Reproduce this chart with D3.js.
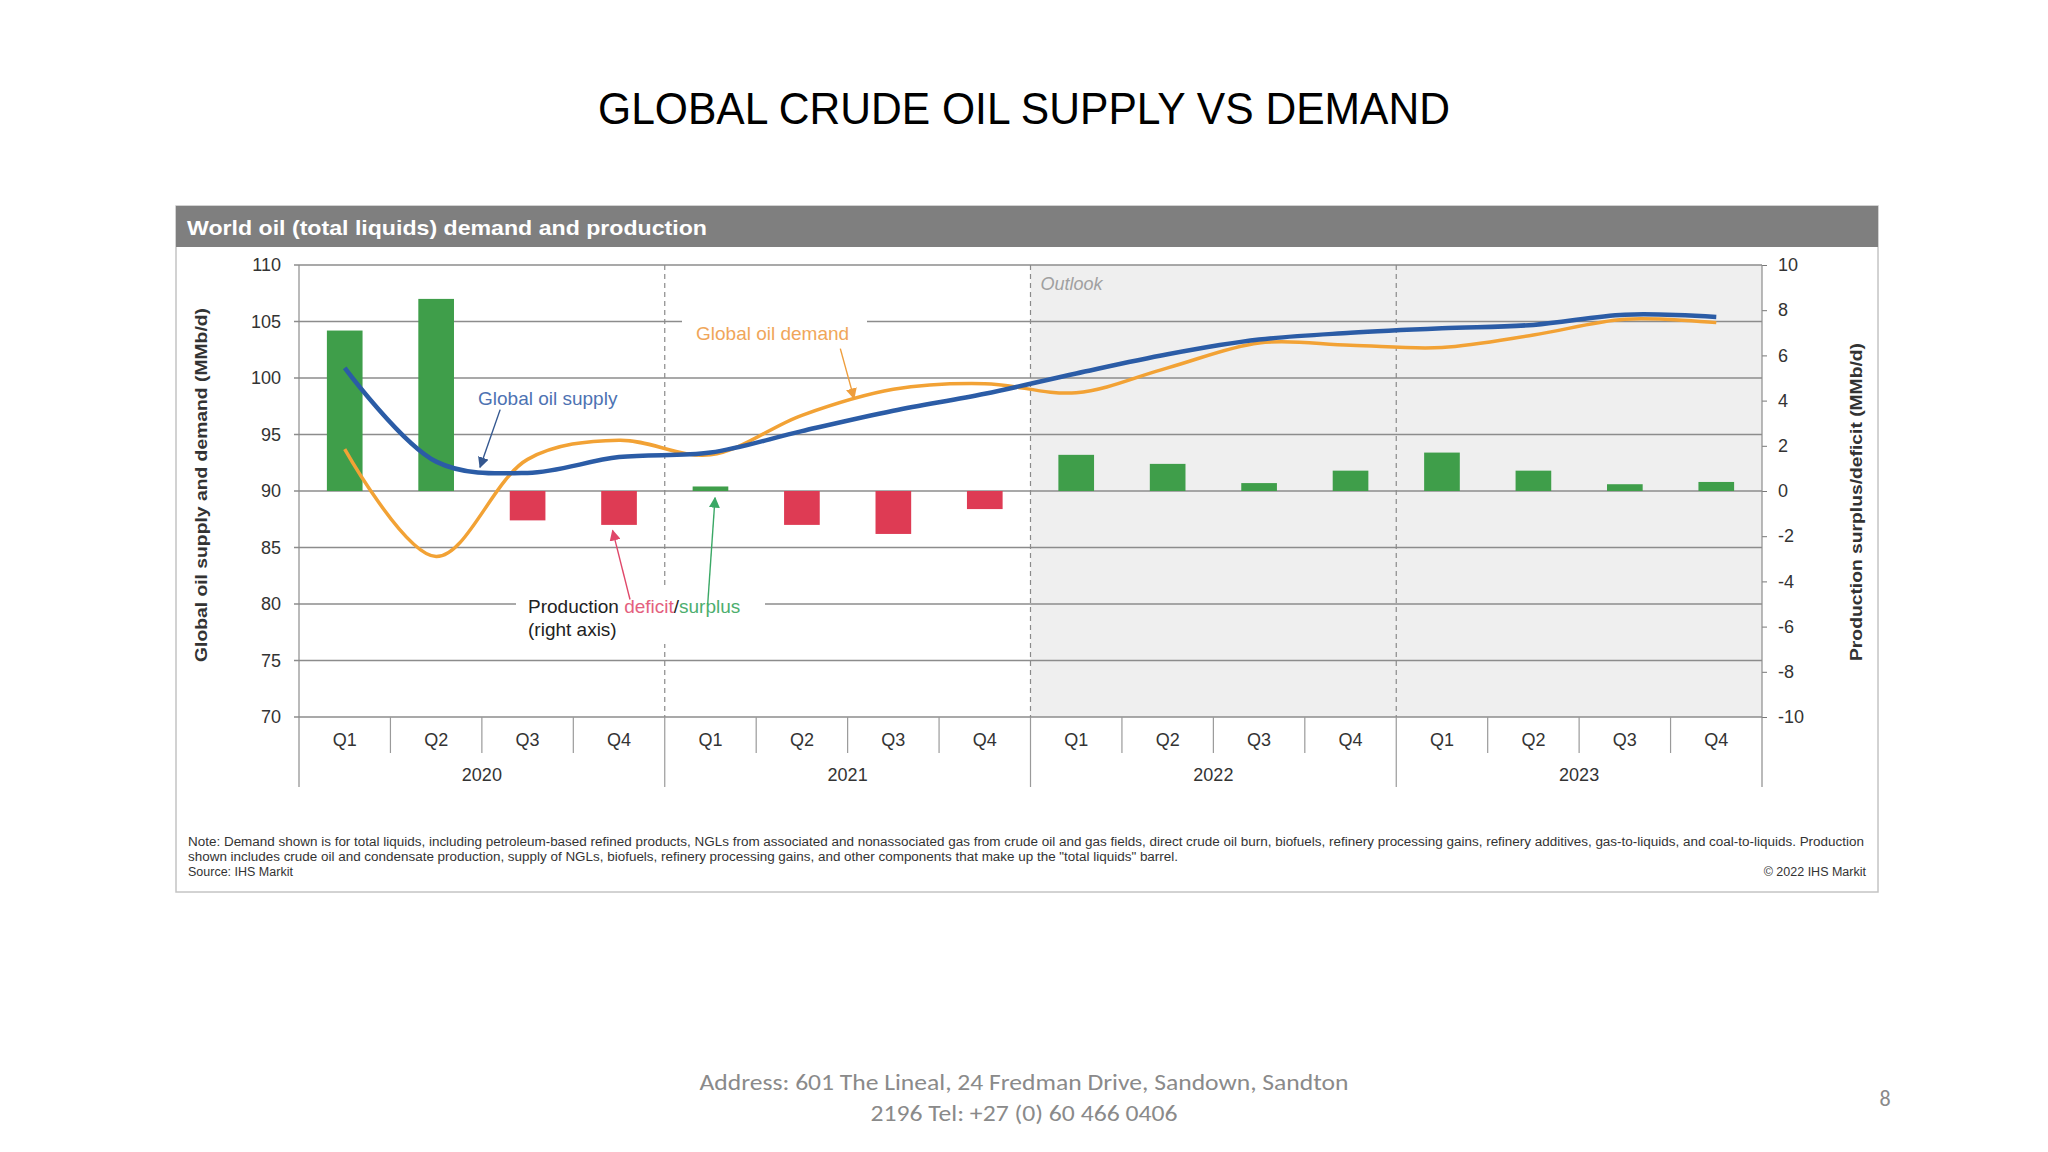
<!DOCTYPE html>
<html>
<head>
<meta charset="utf-8">
<script src="https://cdn.jsdelivr.net/npm/d3@7"></script>
<style>
  html, body { margin: 0; padding: 0; background: #fff; }
  svg { display: block; }
</style>
</head>
<body>
<svg id="slide" width="2048" height="1152"></svg>
<script>
// data
const years = ["2020", "2021", "2022", "2023"];
const quarters = ["Q1", "Q2", "Q3", "Q4"];
const supply = [100.9, 92.6, 91.6, 93.0, 93.4, 95.3, 97.1, 98.6, 100.4, 102.1, 103.4, 104.0, 104.4, 104.7, 105.6, 105.4];
const demand = [93.7, 84.2, 92.8, 94.5, 93.2, 96.7, 99.0, 99.5, 98.7, 100.9, 103.1, 102.9, 102.7, 103.8, 105.2, 104.9];
const balance = [7.1, 8.5, -1.3, -1.5, 0.2, -1.5, -1.9, -0.8, 1.6, 1.2, 0.35, 0.9, 1.7, 0.9, 0.3, 0.4];
const leftTicks = [70, 75, 80, 85, 90, 95, 100, 105, 110];
const rightTicks = [-10, -8, -6, -4, -2, 0, 2, 4, 6, 8, 10];
const outlookFrom = "2022";

const font = "'Liberation Sans', Arial, sans-serif";
const svg = d3.select('#slide');

// slide title
svg.append('text')
  .attr('x', 1024).attr('y', 124)
  .attr('text-anchor', 'middle')
  .style('font-family', font).style('font-size', '44px').style('fill', '#000')
  .attr('textLength', 852).attr('lengthAdjust', 'spacingAndGlyphs')
  .text('GLOBAL CRUDE OIL SUPPLY VS DEMAND');

// chart frame + header
svg.append('rect').attr('x', 176).attr('y', 206).attr('width', 1702).attr('height', 686)
  .style('fill', '#fff').style('stroke', '#c4c4c4').style('stroke-width', 1.5);
svg.append('rect').attr('x', 176).attr('y', 206).attr('width', 1702).attr('height', 41)
  .style('fill', '#7f7f7f');
svg.append('text').attr('x', 187).attr('y', 235)
  .style('font-family', font).style('font-size', '21px').style('font-weight', 'bold').style('fill', '#fff')
  .attr('textLength', 520).attr('lengthAdjust', 'spacingAndGlyphs')
  .text('World oil (total liquids) demand and production');

const pL = 299, pR = 1762, pT = 265, pB = 717;
const keys = [];
years.forEach(y => quarters.forEach(q => keys.push(y + q)));

const x = d3.scaleBand().domain(keys).range([pL, pR]).padding(0);
const step = x.bandwidth();
const xAt = i => pL + (i + 0.5) * step;   // fractional category position
const yL = d3.scaleLinear().domain([70, 110]).range([pB, pT]);
const yR = d3.scaleLinear().domain([-10, 10]).range([pB, pT]);

// Outlook shading
{
  const x0 = x(outlookFrom + 'Q1');
  svg.append('rect').attr('x', x0).attr('y', pT).attr('width', pR - x0).attr('height', pB - pT)
    .style('fill', '#efefef');
}

// gridlines
svg.append('g').selectAll('line').data(leftTicks).enter().append('line')
  .attr('x1', pL - 5).attr('x2', pR)
  .attr('y1', d => yL(d)).attr('y2', d => yL(d))
  .style('stroke', '#8c8c8c').style('stroke-width', 1.5);

// left axis labels
{
  let g = svg.append('g').attr('transform', `translate(${pL},0)`)
    .call(d3.axisLeft(yL).tickValues(leftTicks).tickSize(5).tickPadding(13));
  g.select('.domain').remove();
  g.selectAll('line').remove();
  g.selectAll('text').style('font-family', font).style('font-size', '18px').style('fill', '#333');
}
// right axis
{
  let g = svg.append('g').attr('transform', `translate(${pR},0)`)
    .call(d3.axisRight(yR).tickValues(rightTicks).tickSize(5).tickPadding(11).tickFormat(d => String(d)));
  g.select('.domain').remove();
  g.selectAll('line').style('stroke', '#777');
  g.selectAll('text').style('font-family', font).style('font-size', '18px').style('fill', '#333');
}

// year dividers (dashed inside plot)
const yearEdges = years.slice(1).map(y => x(y + 'Q1'));
svg.append('g').selectAll('line').data(yearEdges).enter().append('line')
  .attr('x1', d => d).attr('x2', d => d).attr('y1', pT).attr('y2', pB)
  .style('stroke', '#8a8a8a').style('stroke-width', 1.2).style('stroke-dasharray', '5,4');

// left / right axis lines
svg.append('line').attr('x1', pL).attr('x2', pL).attr('y1', pT).attr('y2', 787)
  .style('stroke', '#8c8c8c').style('stroke-width', 1.2);
svg.append('line').attr('x1', pR).attr('x2', pR).attr('y1', pT).attr('y2', 787)
  .style('stroke', '#8c8c8c').style('stroke-width', 1.2);

// category axis separators
{
  const seps = keys.slice(1).map(k => ({ x: x(k), year: k.endsWith('Q1') }));
  svg.append('g').selectAll('line').data(seps).enter().append('line')
    .attr('x1', d => d.x).attr('x2', d => d.x)
    .attr('y1', pB).attr('y2', d => d.year ? 787 : 753)
    .style('stroke', '#9a9a9a').style('stroke-width', 1.2);
  svg.append('g').selectAll('text').data(keys).enter().append('text')
    .attr('x', d => x(d) + step / 2).attr('y', 746)
    .attr('text-anchor', 'middle')
    .style('font-family', font).style('font-size', '18px').style('fill', '#333')
    .text(d => d.slice(4));
  svg.append('g').selectAll('text').data(years).enter().append('text')
    .attr('x', d => x(d + 'Q1') + step * 2).attr('y', 781)
    .attr('text-anchor', 'middle')
    .style('font-family', font).style('font-size', '18px').style('fill', '#333')
    .text(d => d);
}

// bars (right axis)
{
  const bw = step * 0.39;
  svg.append('g').selectAll('rect').data(balance).enter().append('rect')
    .attr('x', (d, i) => x(keys[i]) + (step - bw) / 2)
    .attr('width', bw)
    .attr('y', d => yR(Math.max(0, d)))
    .attr('height', d => Math.abs(yR(d) - yR(0)))
    .style('fill', d => d >= 0 ? '#3f9e4a' : '#de3b54');
}

// curves
const line = d3.line().x((d, i) => xAt(i)).y(d => yL(d)).curve(d3.curveCatmullRom.alpha(0.5));
svg.append('path').datum(demand).attr('d', line)
  .style('fill', 'none').style('stroke', '#f2a235').style('stroke-width', 3.5);
svg.append('path').datum(supply).attr('d', line)
  .style('fill', 'none').style('stroke', '#2b5ca6').style('stroke-width', 4.5);

// annotations
const defs = svg.append('defs');
const arrowColors = { blue: '#34578f', orange: '#ee9d3c', red: '#e0486a', green: '#3aa865' };
Object.keys(arrowColors).forEach(k => {
  defs.append('marker').attr('id', 'ah-' + k)
    .attr('viewBox', '0 0 10 10').attr('refX', 9).attr('refY', 5)
    .attr('markerWidth', 11).attr('markerHeight', 11).attr('markerUnits', 'userSpaceOnUse')
    .attr('orient', 'auto')
    .append('path').attr('d', 'M0,0 L10,5 L0,10 z').style('fill', arrowColors[k]);
});

// white backgrounds breaking the gridlines
svg.append('rect').attr('x', 682).attr('y', 316).attr('width', 185).attr('height', 30).style('fill', '#fff');
svg.append('rect').attr('x', 516).attr('y', 587).attr('width', 249).attr('height', 57).style('fill', '#fff');

svg.append('text').attr('x', x(outlookFrom + 'Q1') + 10).attr('y', 290)
  .style('font-family', font).style('font-size', '18px').style('font-style', 'italic').style('fill', '#a0a0a0')
  .text('Outlook');

svg.append('text').attr('x', 696).attr('y', 340)
  .style('font-family', font).style('font-size', '19px').style('fill', '#f0a65a')
  .text('Global oil demand');
svg.append('text').attr('x', 478).attr('y', 405)
  .style('font-family', font).style('font-size', '19px').style('fill', '#4d72b2')
  .text('Global oil supply');

{
  const t = svg.append('text').attr('x', 528).attr('y', 613)
    .style('font-family', font).style('font-size', '19px').style('fill', '#222');
  t.append('tspan').text('Production ');
  t.append('tspan').style('fill', '#e4607e').text('deficit');
  t.append('tspan').text('/');
  t.append('tspan').style('fill', '#4cae6e').text('surplus');
  svg.append('text').attr('x', 528).attr('y', 636)
    .style('font-family', font).style('font-size', '19px').style('fill', '#222')
    .text('(right axis)');
}

const arrows = [
  { c: 'blue',   from: [xAt(1.70), yL(97.2)], to: [xAt(1.48), yL(92.1)] },
  { c: 'orange', from: [xAt(5.42), yL(102.6)], to: [xAt(5.57), yL(98.2)] },
  { c: 'red',    from: [xAt(3.12), yR(-4.8)], to: [xAt(2.93), yR(-1.75)] },
  { c: 'green',  from: [xAt(3.97), yR(-5.0)], to: [xAt(4.05), yR(-0.3)] }
];
svg.append('g').selectAll('line').data(arrows).enter().append('line')
  .attr('x1', d => d.from[0]).attr('y1', d => d.from[1])
  .attr('x2', d => d.to[0]).attr('y2', d => d.to[1])
  .style('stroke', d => arrowColors[d.c]).style('stroke-width', 1.4)
  .attr('marker-end', d => `url(#ah-${d.c})`);

// axis titles
svg.append('text')
  .attr('transform', 'translate(207,485) rotate(-90)')
  .attr('text-anchor', 'middle')
  .style('font-family', font).style('font-size', '17px').style('font-weight', 'bold').style('fill', '#333')
  .attr('textLength', 354).attr('lengthAdjust', 'spacingAndGlyphs')
  .text('Global oil supply and demand (MMb/d)');
svg.append('text')
  .attr('transform', 'translate(1862,502) rotate(-90)')
  .attr('text-anchor', 'middle')
  .style('font-family', font).style('font-size', '17px').style('font-weight', 'bold').style('fill', '#333')
  .attr('textLength', 318).attr('lengthAdjust', 'spacingAndGlyphs')
  .text('Production surplus/deficit (MMb/d)');

// notes
{
  const note = svg.append('g').style('font-family', font).style('font-size', '12.5px').style('fill', '#333');
  note.append('text').attr('x', 188).attr('y', 846)
    .attr('textLength', 1676).attr('lengthAdjust', 'spacingAndGlyphs')
    .text('Note: Demand shown is for total liquids, including petroleum-based refined products, NGLs from associated and nonassociated gas from crude oil and gas fields, direct crude oil burn, biofuels, refinery processing gains, refinery additives, gas-to-liquids, and coal-to-liquids. Production');
  note.append('text').attr('x', 188).attr('y', 861)
    .attr('textLength', 990).attr('lengthAdjust', 'spacingAndGlyphs')
    .text('shown includes crude oil and condensate production, supply of NGLs, biofuels, refinery processing gains, and other components that make up the "total liquids" barrel.');
  note.append('text').attr('x', 188).attr('y', 876)
    .text('Source: IHS Markit');
  note.append('text').attr('x', 1866).attr('y', 876).attr('text-anchor', 'end')
    .text('© 2022 IHS Markit');
}

// footer
{
  const ff = "Carlito, 'Open Sans', 'Noto Sans', sans-serif";
  svg.append('text').attr('x', 1024).attr('y', 1090).attr('text-anchor', 'middle')
    .style('font-family', ff).style('font-size', '22px').style('fill', '#8a8a8a')
    .attr('textLength', 649).attr('lengthAdjust', 'spacingAndGlyphs')
    .text('Address: 601 The Lineal, 24 Fredman Drive, Sandown, Sandton');
  svg.append('text').attr('x', 1024).attr('y', 1121).attr('text-anchor', 'middle')
    .style('font-family', ff).style('font-size', '22px').style('fill', '#8a8a8a')
    .attr('textLength', 307).attr('lengthAdjust', 'spacingAndGlyphs')
    .text('2196 Tel: +27 (0) 60 466 0406');
  svg.append('text').attr('x', 1885).attr('y', 1106).attr('text-anchor', 'middle')
    .style('font-family', ff).style('font-size', '22px').style('fill', '#8a8a8a')
    .text('8');
}
</script>
</body>
</html>
